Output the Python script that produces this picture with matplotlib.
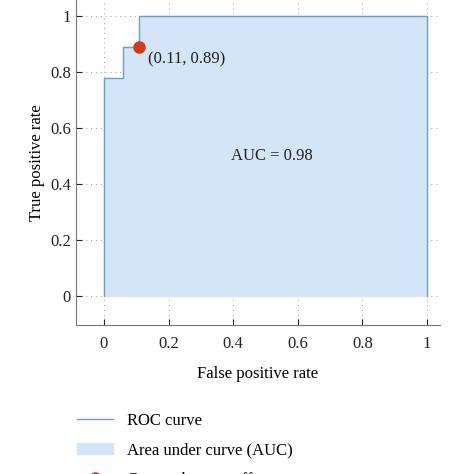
import matplotlib
matplotlib.use("Agg")
import matplotlib.pyplot as plt
from matplotlib.lines import Line2D
from matplotlib.patches import Patch

fpr = [0, 0, 0.06, 0.06, 0.11, 0.11, 1.0, 1.0]
tpr = [0, 0.78, 0.78, 0.89, 0.89, 1.0, 1.0, 0]
best = (0.11, 0.89)
auc = 0.98
ticks = [0, 0.2, 0.4, 0.6, 0.8, 1]
tick_labels = ["0", "0.2", "0.4", "0.6", "0.8", "1"]

plt.rcParams['font.family'] = ['Liberation Serif', 'DejaVu Serif']
fig = plt.figure(figsize=(4.74, 4.74), dpi=100)
ax = fig.add_axes([0.16, 0.314, 0.768, 0.686])
ax.fill(fpr, tpr, color="#d4e5f7", zorder=1)
ax.plot(fpr, tpr, color="#6a9fd4", lw=1, zorder=2)
ax.plot(*best, 'o', color="#d23c12", ms=8, zorder=3)
ax.text(best[0] + 0.025, best[1] - 0.015, f"({best[0]}, {best[1]})", fontsize=12, va="top", color="#222")
ax.text(0.52, 0.5, f"AUC = {auc}", fontsize=12, ha="center", va="center", color="#222")
ax.set_xlim(-0.087, 1.04)
ax.set_ylim(-0.105, 1.057)
ax.set_xticks(ticks, tick_labels)
ax.set_yticks(ticks, tick_labels)
ax.grid(True, linestyle=(0, (1, 4)), color="#999", lw=0.7)
ax.set_axisbelow(True)
for s in ["top", "right"]:
    ax.spines[s].set_visible(False)
for s in ["left", "bottom"]:
    ax.spines[s].set_color("#777")
ax.tick_params(colors="#222", labelsize=12, length=4, direction="in")
ax.tick_params(axis="x", pad=8)
ax.set_xlabel("False positive rate", fontsize=12, labelpad=10)
ax.set_ylabel("True positive rate", fontsize=12)

handles = [Line2D([0], [0], color="#6a9fd4", lw=1),
           Patch(color="#d4e5f7"),
           Line2D([0], [0], marker='o', color="#d23c12", lw=0, ms=8)]
fig.legend(handles, ["ROC curve", "Area under curve (AUC)", "Current best cutoff"],
           loc="upper left", bbox_to_anchor=(0.13, 0.16), frameon=False,
           fontsize=12, handlelength=2.2, labelspacing=0.8)
fig.savefig("out.png", dpi=100)
